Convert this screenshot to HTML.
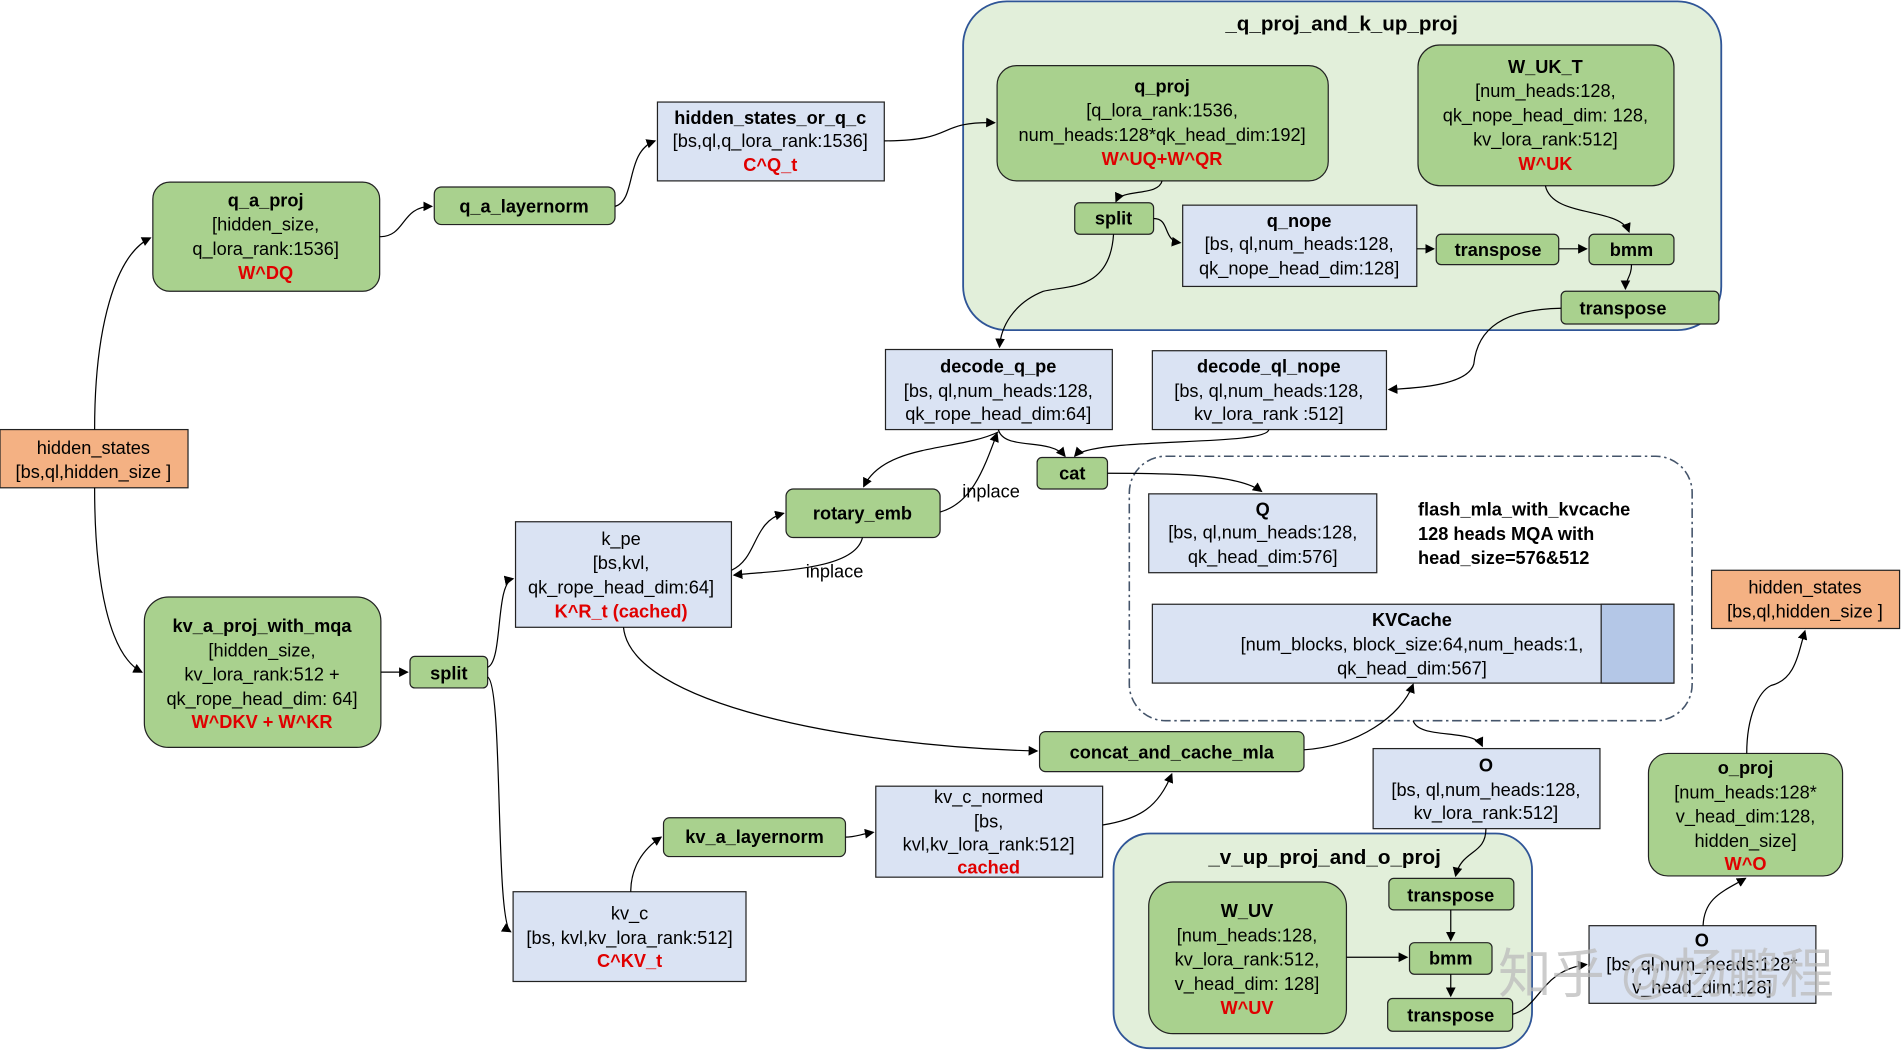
<!DOCTYPE html>
<html><head><meta charset="utf-8"><style>
html,body{margin:0;padding:0;background:#fff;}
svg{display:block;}
text{font-family:"Liberation Sans","Noto Sans CJK SC",sans-serif;font-size:15px;fill:#000;text-anchor:middle;}
.b{font-weight:bold;}
.r{fill:#e00000;font-weight:bold;}
.g{fill:#a9d18e;stroke:#222;stroke-width:1;}
.bl{fill:#dae3f3;stroke:#222;stroke-width:1;}
.o{fill:#f4b183;stroke:#222;stroke-width:1;}
.c{fill:none;stroke:#000;stroke-width:1;marker-end:url(#a);}
</style></head><body>
<svg width="1902" height="1052" viewBox="0 0 1568 867" xmlns="http://www.w3.org/2000/svg">
<defs><marker id="a" markerWidth="8" markerHeight="8" refX="7" refY="4" orient="auto" markerUnits="userSpaceOnUse"><path d="M0,0 L8,4 L0,8 z" fill="#000"/></marker></defs>
<rect width="1568" height="867" fill="#fff"/>
<!-- groups -->
<rect x="794" y="1" width="625" height="271" rx="36" fill="#e2efda" stroke="#2f5597" stroke-width="1.5"/>
<text x="1106" y="25" class="b" style="font-size:17px">_q_proj_and_k_up_proj</text>
<rect x="918" y="687" width="345" height="177" rx="30" fill="#e2efda" stroke="#2f5597" stroke-width="1.5"/>
<text x="1092" y="712" class="b" style="font-size:17px">_v_up_proj_and_o_proj</text>
<rect x="931" y="376" width="464" height="218" rx="30" fill="none" stroke="#44546a" stroke-width="1.3" stroke-dasharray="8,3,2,3"/>

<!-- nodes -->
<rect x="0" y="354" width="155" height="48" class="o"/>
<text x="77" y="374">hidden_states</text><text x="77" y="394">[bs,ql,hidden_size ]</text>

<rect x="126" y="150" width="187" height="90" rx="14" class="g"/>
<text x="219" y="170" class="b">q_a_proj</text><text x="219" y="190">[hidden_size,</text><text x="219" y="210">q_lora_rank:1536]</text><text x="219" y="230" class="r">W^DQ</text>

<rect x="358" y="154" width="149" height="31" rx="6" class="g"/>
<text x="432" y="175" class="b">q_a_layernorm</text>

<rect x="542" y="84" width="187" height="65" class="bl"/>
<text x="635" y="102" class="b">hidden_states_or_q_c</text><text x="635" y="121">[bs,ql,q_lora_rank:1536]</text><text x="635" y="141" class="r">C^Q_t</text>

<rect x="822" y="54" width="273" height="95" rx="16" class="g"/>
<text x="958" y="76" class="b">q_proj</text><text x="958" y="96">[q_lora_rank:1536,</text><text x="958" y="116">num_heads:128*qk_head_dim:192]</text><text x="958" y="136" class="r">W^UQ+W^QR</text>

<rect x="1169" y="37" width="211" height="116" rx="18" class="g"/>
<text x="1274" y="60" class="b">W_UK_T</text><text x="1274" y="80">[num_heads:128,</text><text x="1274" y="100">qk_nope_head_dim: 128,</text><text x="1274" y="120">kv_lora_rank:512]</text><text x="1274" y="140" class="r">W^UK</text>

<rect x="886" y="167" width="65" height="26" rx="4" class="g"/><text x="918" y="185" class="b">split</text>

<rect x="975" y="169" width="193" height="67" class="bl"/>
<text x="1071" y="187" class="b">q_nope</text><text x="1071" y="206">[bs, ql,num_heads:128,</text><text x="1071" y="226">qk_nope_head_dim:128]</text>

<rect x="1184" y="193" width="101" height="25" rx="4" class="g"/><text x="1235" y="211" class="b">transpose</text>
<rect x="1310" y="193" width="70" height="25" rx="4" class="g"/><text x="1345" y="211" class="b">bmm</text>
<rect x="1287" y="240" width="130" height="27" rx="4" class="g"/><text x="1338" y="259" class="b">transpose</text>

<rect x="730" y="288" width="187" height="66" class="bl"/>
<text x="823" y="307" class="b">decode_q_pe</text><text x="823" y="327">[bs, ql,num_heads:128,</text><text x="823" y="346">qk_rope_head_dim:64]</text>

<rect x="950" y="289" width="193" height="65" class="bl"/>
<text x="1046" y="307" class="b">decode_ql_nope</text><text x="1046" y="327">[bs, ql,num_heads:128,</text><text x="1046" y="346">kv_lora_rank :512]</text>

<rect x="855" y="377" width="58" height="26" rx="4" class="g"/><text x="884" y="395" class="b">cat</text>

<rect x="648" y="403" width="127" height="40" rx="6" class="g"/><text x="711" y="428" class="b">rotary_emb</text>
<text x="817" y="410">inplace</text><text x="688" y="476">inplace</text>

<rect x="425" y="430" width="178" height="87" class="bl"/>
<text x="512" y="449">k_pe</text><text x="512" y="469">[bs,kvl,</text><text x="512" y="489">qk_rope_head_dim:64]</text><text x="512" y="509" class="r">K^R_t (cached)</text>

<rect x="947" y="407" width="188" height="65" class="bl"/>
<text x="1041" y="425" class="b">Q</text><text x="1041" y="444">[bs, ql,num_heads:128,</text><text x="1041" y="464">qk_head_dim:576]</text>
<text x="1169" y="425" class="b" style="text-anchor:start">flash_mla_with_kvcache</text>
<text x="1169" y="445" class="b" style="text-anchor:start">128 heads MQA with</text>
<text x="1169" y="465" class="b" style="text-anchor:start">head_size=576&amp;512</text>

<rect x="950" y="498" width="430" height="65" class="bl"/>
<rect x="1320" y="498" width="60" height="65" fill="#b4c7e7" stroke="#222"/>
<text x="1164" y="516" class="b">KVCache</text><text x="1164" y="536">[num_blocks, block_size:64,num_heads:1,</text><text x="1164" y="556">qk_head_dim:567]</text>

<rect x="119" y="492" width="195" height="124" rx="20" class="g"/>
<text x="216" y="521" class="b">kv_a_proj_with_mqa</text><text x="216" y="541">[hidden_size,</text><text x="216" y="561">kv_lora_rank:512 +</text><text x="216" y="581">qk_rope_head_dim: 64]</text><text x="216" y="600" class="r">W^DKV + W^KR</text>

<rect x="338" y="541" width="64" height="26" rx="4" class="g"/><text x="370" y="560" class="b">split</text>

<rect x="857" y="603" width="218" height="33" rx="5" class="g"/><text x="966" y="625" class="b">concat_and_cache_mla</text>

<rect x="1132" y="617" width="187" height="66" class="bl"/>
<text x="1225" y="636" class="b">O</text><text x="1225" y="656">[bs, ql,num_heads:128,</text><text x="1225" y="675">kv_lora_rank:512]</text>

<rect x="547" y="674" width="150" height="32" rx="5" class="g"/><text x="622" y="695" class="b">kv_a_layernorm</text>

<rect x="722" y="648" width="187" height="75" class="bl"/>
<text x="815" y="662">kv_c_normed</text><text x="815" y="682">[bs,</text><text x="815" y="701">kvl,kv_lora_rank:512]</text><text x="815" y="720" class="r">cached</text>

<rect x="423" y="735" width="192" height="74" class="bl"/>
<text x="519" y="758">kv_c</text><text x="519" y="778">[bs, kvl,kv_lora_rank:512]</text><text x="519" y="797" class="r">C^KV_t</text>

<rect x="947" y="727" width="163" height="125" rx="20" class="g"/>
<text x="1028" y="756" class="b">W_UV</text><text x="1028" y="776">[num_heads:128,</text><text x="1028" y="796">kv_lora_rank:512,</text><text x="1028" y="816">v_head_dim: 128]</text><text x="1028" y="836" class="r">W^UV</text>

<rect x="1145" y="724" width="103" height="26" rx="4" class="g"/><text x="1196" y="743" class="b">transpose</text>
<rect x="1162" y="777" width="68" height="26" rx="4" class="g"/><text x="1196" y="795" class="b">bmm</text>
<rect x="1144" y="823" width="103" height="27" rx="4" class="g"/><text x="1196" y="842" class="b">transpose</text>

<rect x="1310" y="763" width="187" height="64" class="bl"/>
<text x="1403" y="780" class="b">O</text><text x="1403" y="800">[bs, ql,num_heads:128*</text><text x="1403" y="819">v_head_dim:128]</text>

<rect x="1359" y="621" width="160" height="101" rx="16" class="g"/>
<text x="1439" y="638" class="b">o_proj</text><text x="1439" y="658">[num_heads:128*</text><text x="1439" y="678">v_head_dim:128,</text><text x="1439" y="698">hidden_size]</text><text x="1439" y="717" class="r">W^O</text>

<rect x="1411" y="470" width="155" height="48" class="o"/>
<text x="1488" y="489">hidden_states</text><text x="1488" y="509">[bs,ql,hidden_size ]</text>

<!-- connectors -->
<path class="c" d="M78,354 C78,270 95,210 124,196"/>
<path class="c" d="M78,402 C78,480 90,540 117,554"/>
<path class="c" d="M313,195 C335,195 330,170 356,170"/>
<path class="c" d="M507,170 C525,165 515,125 540,116"/>
<path class="c" d="M729,116 C790,116 770,100 820,101"/>
<path class="c" d="M958,149 C955,162 925,155 920,166"/>
<path class="c" d="M951,180 C965,180 958,198 973,200"/>
<path class="c" d="M1168,205 L1182,205"/>
<path class="c" d="M1285,205 L1308,205"/>
<path class="c" d="M1274,153 C1280,180 1335,170 1343,191"/>
<path class="c" d="M1345,218 C1345,228 1340,230 1340,238"/>
<path class="c" d="M918,193 C915,240 880,235 860,240 C835,250 825,270 824,286"/>
<path class="c" d="M1287,254 C1240,255 1218,270 1215,300 C1210,318 1165,320 1145,321"/>
<path class="c" d="M823,354 C828,372 865,360 878,376"/>
<path class="c" d="M1046,354 C1045,368 900,360 886,376"/>
<path class="c" d="M913,390 C960,390 1020,390 1040,405"/>
<path class="c" d="M823,356 C790,372 730,365 712,401"/>
<path class="c" d="M775,422 C800,415 810,390 822,357"/>
<path class="c" d="M711,443 C705,470 640,470 605,474"/>
<path class="c" d="M603,470 C625,460 620,430 646,423"/>
<path class="c" d="M314,554 L336,554"/>
<path class="c" d="M402,550 C415,545 408,480 423,477"/>
<path class="c" d="M402,558 C415,565 408,760 421,768"/>
<path class="c" d="M514,517 C520,580 700,615 855,619"/>
<path class="c" d="M520,735 C520,715 530,700 545,690"/>
<path class="c" d="M697,690 C705,690 708,688 720,686"/>
<path class="c" d="M909,680 C940,675 955,665 966,638"/>
<path class="c" d="M1075,618 C1120,615 1155,590 1165,564"/>
<path class="c" d="M1165,594 C1170,610 1215,600 1222,615"/>
<path class="c" d="M1225,683 C1225,705 1205,700 1200,722"/>
<path class="c" d="M1196,750 L1196,775"/>
<path class="c" d="M1110,789 L1160,789"/>
<path class="c" d="M1196,803 L1196,821"/>
<path class="c" d="M1247,836 C1270,830 1270,800 1308,795"/>
<path class="c" d="M1404,763 C1405,740 1420,735 1439,724"/>
<path class="c" d="M1440,621 C1440,590 1450,570 1460,565 C1480,560 1482,540 1488,520"/>

<text x="1235" y="818" style="font-size:44px;fill:#bbbbbb;fill-opacity:0.75;text-anchor:start">知乎 @杨鹏程</text>
</svg>
</body></html>
